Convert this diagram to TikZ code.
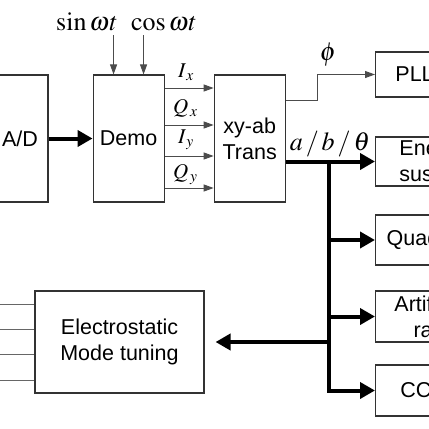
\documentclass[tikz,border=0pt]{standalone}
\usepackage{mathptmx}
\usepackage[no-math]{fontspec}
\setmainfont{Liberation Sans}
\usetikzlibrary{arrows.meta, positioning}

\begin{document}
\begin{tikzpicture}[x=1pt, y=-1pt,
        block/.style  = {draw=black!80, line width=1.1pt, minimum height=127pt, align=center, inner sep=0pt, font=\fontsize{21.5}{26}\selectfont},
        side/.style   = {block, minimum height=50pt, anchor=west},
        sig/.style    = {draw=black!70, line width=1pt, -{Triangle[length=10pt,width=7pt]}},
        feed/.style   = {draw=black!60, line width=1pt},
        bus/.style    = {line width=4pt, -{Triangle[length=15pt,width=16pt]}},
        mlabel/.style = {inner sep=0pt, anchor=base, font=\fontsize{26}{30}\selectfont},
        slabel/.style = {inner sep=0pt, anchor=base west, font=\fontsize{21}{24}\selectfont}]

    \useasboundingbox (0,0) rectangle (429,429);
    \clip (0,0) rectangle (429,429);

    % main chain
    \node[block, minimum width=56pt] (ad) at (20,138.5) {A/D};
    \node[block, minimum width=71pt, right=44pt of ad] (demo) {Demo};
    \node[block, minimum width=71pt, right=49pt of demo] (trans) {xy-ab\\Trans};

    % blocks on the right, cut by the frame
    \node[side, minimum width=78pt, minimum height=45pt] (pll) at (375,74.5) {PLL};
    \node[side, minimum width=116pt, minimum height=49pt] (ene) at (375,161.5) {Energy\\sustain};
    \node[side, minimum width=131pt] (qua) at (375,240) {Quadrature};
    \node[side, minimum width=113pt, minimum height=51pt] (arti) at (375,316.5) {Artificial\\rate};
    \node[side, minimum width=101pt, minimum height=51pt] (cc) at (375,390.5) {CCW};

    \node[block, minimum width=169pt, minimum height=102pt] (es) at (119.5,342) {Electrostatic\\Mode tuning};

    % labels
    \node[mlabel] (sinl) at (87,30) {$\sin\omega t$};
    \node[mlabel] (cosl) at (164,30) {$\cos\omega t$};
    \node[mlabel] (phi) at (328,60) {$\phi$};
    \node[mlabel] (abt) at (330,150) {$a\,/\,b\,/\,\theta$};
    \node[slabel] (ix) at (178,77) {$I_{\,x}$};
    \node[slabel] (qx) at (173,113) {$Q_{\,x}$};
    \node[slabel] (iy) at (178,143) {$I_{\,y}$};
    \node[slabel] (qy) at (173,178) {$Q_{\,y}$};

    % carriers into the demodulator
    \draw[sig] ([xshift=21pt,yshift=39pt]demo.north west) -- ([xshift=21pt]demo.north west);
    \draw[sig] ([xshift=51pt,yshift=39pt]demo.north west) -- ([xshift=51pt]demo.north west);

    \draw[bus] (ad) -- (demo);

    \foreach \yy in {88,125,156,188}
        \draw[sig] (demo.east |- 0,\yy) -- (trans.west |- 0,\yy);

    % phase to the PLL
    \coordinate (step) at (317,100);
    \draw[sig] (trans.east |- step) -- (step) |- (pll.west);

    % a/b/theta bus
    \coordinate (fork) at (329,162);
    \draw[bus] (trans.east |- ene.west) -- (ene.west);
    \draw[bus] (fork) |- (cc.west);
    \draw[bus] (fork |- qua.west) -- (qua.west);
    \draw[bus] (fork |- arti.west) -- (arti.west);
    \draw[bus, shorten >=11pt] (fork |- es.east) -- (es.east);

    \foreach \yy in {304,329,354,380}
        \draw[feed] (0,\yy) -- (es.west |- 0,\yy);

\end{tikzpicture}
\end{document}
